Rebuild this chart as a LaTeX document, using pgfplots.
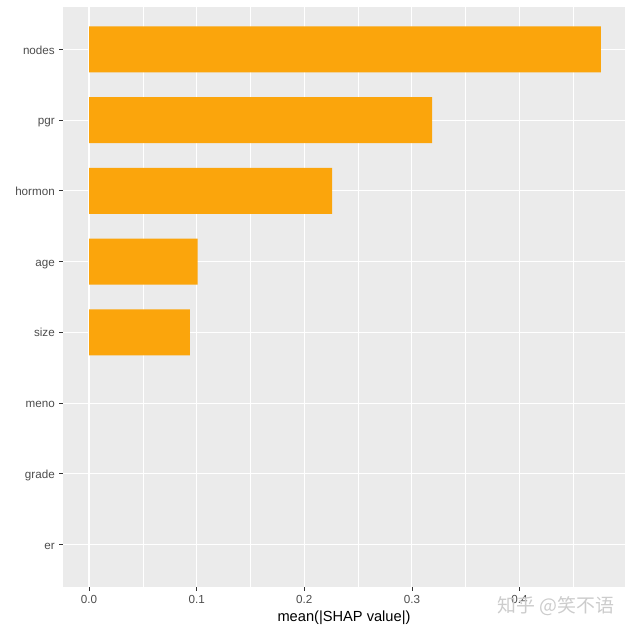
\documentclass[border=0pt]{standalone}
\usepackage{pgfplots}
\pgfplotsset{compat=1.18}
\usepackage{fontspec}
\setmainfont{Liberation Sans}
\newfontfamily\cjk{Noto Sans CJK SC}

\definecolor{panel}{HTML}{EBEBEB}
\definecolor{barfill}{HTML}{FBA50C}
\definecolor{ticktext}{HTML}{4D4D4D}
\definecolor{tickline}{HTML}{333333}

\begin{document}
\begin{tikzpicture}[x=1bp,y=1bp]
\useasboundingbox (-63,-46) rectangle (571,587);
\begin{axis}[
    scale only axis,
    width=562bp, height=580bp,
    xmin=-0.0242, xmax=0.498,
    ymin=0.4, ymax=8.6,
    axis background/.style={fill=panel},
    axis line style={draw=none},
    xtick={0,0.1,0.2,0.3,0.4},
    minor xtick={0.05,0.15,0.25,0.35,0.45},
    xticklabels={0.0,0.1,0.2,0.3,0.4},
    ytick={1,2,3,4,5,6,7,8},
    yticklabels={er,grade,meno,size,age,hormon,pgr,nodes},
    xmajorgrids, ymajorgrids, xminorgrids,
    major grid style={white, line width=1.1bp},
    minor grid style={white, line width=0.55bp},
    tick align=outside,
    major tick length=3.7bp,
    minor tick length=0pt,
    tick style={tickline, line width=0.8bp},
    xtick pos=bottom, ytick pos=left,
    /pgf/number format/assume math mode=true,
    ticklabel style={font=\fontsize{11.7}{12}\selectfont, text=ticktext},
    xticklabel style={yshift=-1bp},
    yticklabel style={xshift=-1bp, text height=9.2bp, text depth=0pt},
    xlabel={mean(|SHAP value|)},
    xlabel style={font=\fontsize{14.7}{16}\selectfont, yshift=-1bp},
    xbar, bar width=0.65,
]
% meno, grade and er are 0 and draw no bar
\addplot[fill=barfill, draw=none] coordinates {
    (0.4756,8) (0.3188,7) (0.2258,6) (0.1010,5) (0.0936,4)
};
\end{axis}
\node[anchor=base west, inner sep=0pt, text=gray!40, font=\cjk\fontsize{19}{21}\selectfont] at (434,-26) {知乎 @笑不语};
\end{tikzpicture}
\end{document}
